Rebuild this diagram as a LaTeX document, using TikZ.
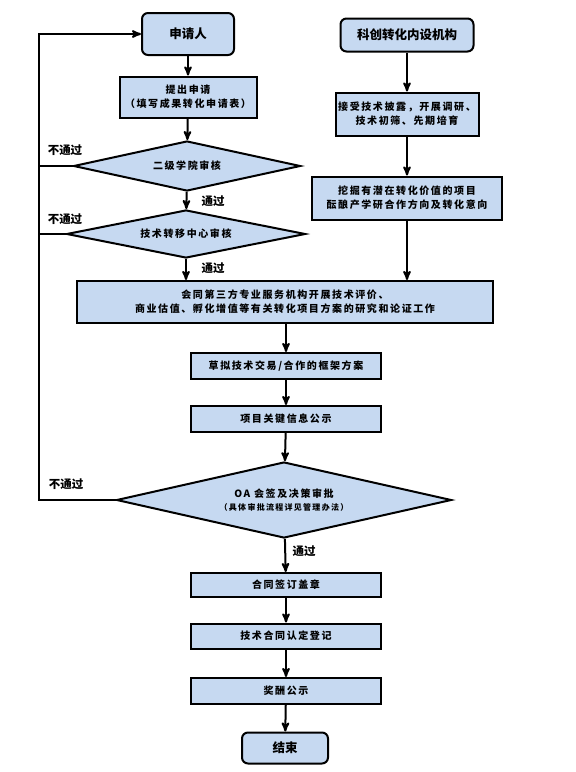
\documentclass[tikz,border=0pt]{standalone}
\usepackage{fontspec}
\setmainfont{Noto Sans CJK SC}
\newfontfamily\cjkwide{Noto Sans CJK SC}[LetterSpace=16]
\usepackage{tikz}
\usetikzlibrary{shapes,arrows}
\definecolor{flowBlue}{HTML}{C6D9F1}
\tikzset{
  flowNode/.style = {align=center, inner sep=1pt, text centered,
    font=\cjkwide\bfseries\fontsize{10}{14}\selectfont},
  flow_r/.style = {flowNode, rectangle, draw=black, line width=2pt, fill=flowBlue, text=black},
  flow_c/.style = {flow_r, rounded corners=6pt, font=\bfseries\fontsize{12.5}{15}\selectfont},
  flow_d/.style = {flowNode, diamond, aspect=4, draw=black, line width=2pt, fill=flowBlue, text=black, inner sep=0pt},
  flowLbl/.style = {font=\bfseries\fontsize{11.5}{13}\selectfont, inner sep=0pt}
    % labels on the connectors
}

\begin{document}
\begin{tikzpicture}[x=1pt,y=-1pt,->,>=stealth',line width=2pt]
\useasboundingbox (0,0) rectangle (576,772);
% left column
\node[flow_c, minimum width=92pt, minimum height=42pt] (applicant) at (188,34) {申请人};
\node[flow_r, minimum width=137pt, minimum height=41pt] (apply) at (188,97) {提出申请\\（填写成果转化申请表）};
\node[flow_d, minimum width=227pt, minimum height=50pt] (college) at (187,166) {二级学院审核};
\node[flow_d, minimum width=239pt, minimum height=48pt] (center) at (186,234) {技术转移中心审核};
% right column
\node[flow_c, minimum width=133pt, minimum height=33pt] (inst) at (407,35) {科创转化内设机构};
\node[flow_r, minimum width=143pt, minimum height=43pt] (disclose) at (407,114) {接受技术披露，开展调研、\\技术初筛、先期培育};
\node[flow_r, minimum width=190pt, minimum height=43pt] (mine) at (407,198) {挖掘有潜在转化价值的项目\\酝酿产学研合作方向及转化意向};
% common part
\node[flow_r, minimum width=416pt, minimum height=42pt] (third) at (285,302) {会同第三方专业服务机构开展技术评价、\\商业估值、孵化增值等有关转化项目方案的研究和论证工作};
\node[flow_r, minimum width=190pt, minimum height=26pt] (draft) at (286,366) {草拟技术交易/合作的框架方案};
\node[flow_r, minimum width=190pt, minimum height=26pt] (publish) at (286,419) {项目关键信息公示};
\node[flow_d, minimum width=335pt, minimum height=76pt] (oa) at (284,500) {OA 会签及决策审批\\[-1pt]{\fontsize{8}{10}\selectfont（具体审批流程详见管理办法）}};
\node[flow_r, minimum width=190pt, minimum height=24pt] (sign) at (286,585) {合同签订盖章};
\node[flow_r, minimum width=190pt, minimum height=25pt] (register) at (286,636) {技术合同认定登记};
\node[flow_r, minimum width=190pt, minimum height=26pt] (reward) at (286,691) {奖酬公示};
\node[flow_c, minimum width=86pt, minimum height=31pt] (finish) at (285,748) {结束};

\coordinate (loopTop) at (39,34);
\coordinate (loopBot) at (39,500);

\draw (applicant) -- (apply);
\draw (apply) -- (college);
\draw (college) -- (center);
\draw (center.south) -- (center.south |- third.north);
\draw (inst) -- (disclose);
\draw (disclose) -- (mine);
\draw (mine.south) -- (mine.south |- third.north);
\draw (third.south -| draft) -- (draft);
\draw (draft) -- (publish);
\draw (publish) -- (oa);
\draw (oa) -- (sign);
\draw (sign) -- (register);
\draw (register) -- (reward);
\draw (reward) -- (finish);
% rejected branches
\draw (oa.west) -- (loopBot) -- (loopTop) -- (applicant.west);
\draw[-] (college.west) -- (college.west -| loopTop);
\draw[-] (center.west) -- (center.west -| loopTop);

\node[flowLbl] (no1) at (65,150) {不通过};
\node[flowLbl] (no2) at (65,219) {不通过};
\node[flowLbl] (no3) at (66,484) {不通过};
\node[flowLbl] (yes1) at (213,201) {通过};
\node[flowLbl] (yes2) at (213,268) {通过};
\node[flowLbl] (yes3) at (304,551) {通过};
\end{tikzpicture}
\end{document}
